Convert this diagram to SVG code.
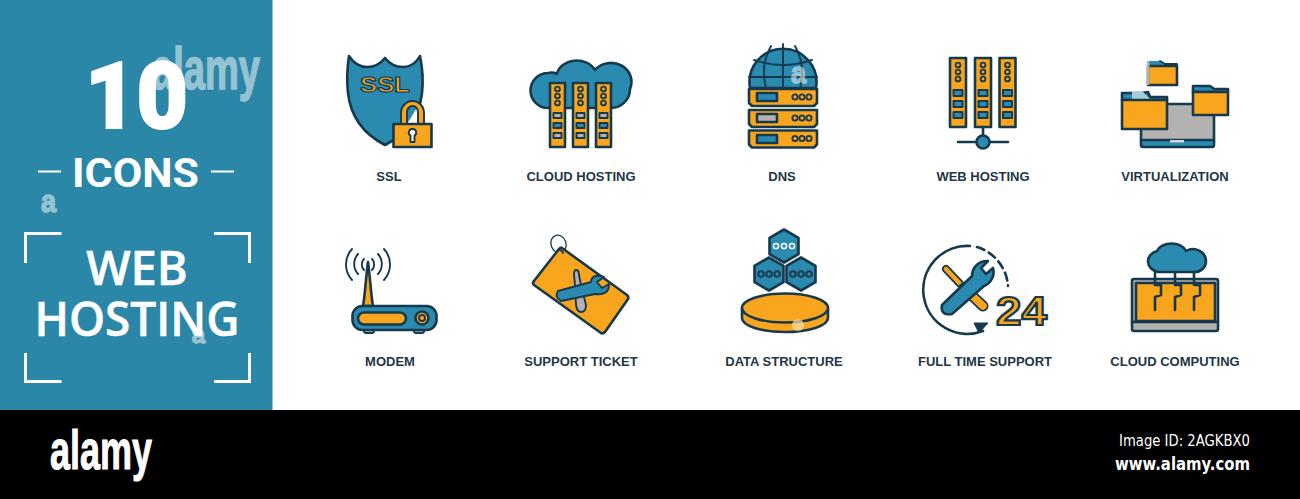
<svg xmlns="http://www.w3.org/2000/svg" width="1300" height="499" viewBox="0 0 1300 499">
<style>
.l{font:bold 13px "Liberation Sans",Arial,sans-serif;fill:#1f3645;text-anchor:middle}
.s{stroke:#17394c;stroke-width:2.600;stroke-linejoin:round;stroke-linecap:round}
.t{stroke:#17394c;stroke-width:1.900;stroke-linejoin:round;stroke-linecap:round}
.n{fill:none}.o{fill:#f9a61e}.b{fill:#2a8ab0}.g{fill:#b4b2b0}
.w{fill:#fff;font-family:"Open Sans",sans-serif;font-weight:600;text-anchor:middle;stroke:#fff;stroke-width:.5}
.m{fill:#fff;stroke:#fff;stroke-width:1.500;opacity:.5;font-family:"Liberation Sans",sans-serif;font-weight:bold}
.k{fill:none;stroke:#fff;stroke-width:3}
.dk{fill:none;stroke:#17394c;stroke-linecap:round}
</style>
<defs>
<g id="dots"><circle cx="7.500" cy="7" r="2.400" class="t n"/><circle cx="7.500" cy="14" r="2.400" class="t n"/><circle cx="7.500" cy="21" r="2.400" class="t n"/></g>
<g id="rack"><rect width="15" height="64" class="s o"/><use href="#dots" y="-1"/><rect x="3.500" y="30" width="8" height="5" class="t g"/><rect x="3.500" y="40" width="8" height="5" class="t b"/><rect x="3.500" y="50" width="8" height="5" class="t g"/></g>
<g id="rackb"><rect width="16" height="69" class="s o"/><use href="#dots" x=".5"/><rect x="3.500" y="32" width="9" height="6" class="t b"/><rect x="3.500" y="43" width="9" height="6" class="t b"/><rect x="3.500" y="54" width="9" height="6" class="t b"/></g>
<g id="unit"><path d="M0 0H68V14L65 17H3L0 14Z" class="s o"/><circle cx="46" cy="8" r="2.600" class="t n"/><circle cx="53" cy="8" r="2.600" class="t n"/><circle cx="60" cy="8" r="2.600" class="t n"/></g>
<path id="hex" d="M0-16.500L14.500-8.200V8.200L0 16.500L-14.500 8.200V-8.200Z" class="s b"/>
</defs>
<rect width="1300" height="499" fill="#fff"/>
<g id="panel">
<rect width="272.500" height="410" fill="#2b87a7"/>
<text class="m" x="152" y="89" font-size="60" textLength="108" lengthAdjust="spacingAndGlyphs">alamy</text>
<text class="m" x="41" y="212" font-size="32" textLength="15" lengthAdjust="spacingAndGlyphs">a</text>
<text class="m" x="192" y="343" font-size="24" textLength="13" lengthAdjust="spacingAndGlyphs">a</text>
<text x="85" y="128" font-family="Roboto,sans-serif" font-weight="900" font-size="92" fill="#fff" stroke="#fff" stroke-width="2" textLength="103" lengthAdjust="spacingAndGlyphs">10</text>
<text x="72" y="187" font-family="Roboto,sans-serif" font-weight="700" font-size="41" fill="#fff" textLength="127" lengthAdjust="spacingAndGlyphs">ICONS</text>
<path d="M38 171.500H61M211 171.500H234" stroke="#fff" stroke-width="2" fill="none"/>
<text class="w" x="137" y="285" font-size="47">WEB</text>
<text class="w" x="137" y="336" font-size="47" textLength="205" lengthAdjust="spacingAndGlyphs">HOSTING</text>
<path class="k" d="M25.500 263V233.500H61.500M214 233.500H249.500V263M25.500 353V381.500H61.500M214 381.500H249.500V353"/>
</g>
<g id="ssl">
<path d="M349 56Q356 67 367 67Q378 67 385 58Q392 67 403 67Q414 67 420 56Q424 75 422 93Q418 128 385 145Q352 128 348 93Q346 75 349 56Z" class="s b"/>
<text x="360" y="92" font-family="Liberation Sans,sans-serif" font-weight="bold" font-size="22" fill="#f9a61e" stroke="#17394c" stroke-width="1.200" textLength="50" lengthAdjust="spacingAndGlyphs">SSL</text>
<path d="M407 124V112A5.500 6 0 0 1 418 112V124Z" class="b"/><path d="M418 106V124H407Z" fill="#fff"/>
<path d="M401 124V113A11.500 12 0 0 1 424 113V124H418V112A5.500 6 0 0 0 407 112V124Z" class="t o"/>
<rect x="393.500" y="124" width="38" height="23" class="s o"/>
<path d="M412.500 129a3.500 3.500 0 0 1 2 6.500V142h-4v-6.500a3.500 3.500 0 0 1 2-6.500Z" fill="#fff" class="t"/>
<text class="l" x="389" y="181">SSL</text>
</g>
<g id="cloud-hosting">
<path d="M548 108A17.500 17.500 0 0 1 548 73Q553 72 557 74A20 16 0 0 1 595 70A20.500 19 0 0 1 630 89A19 19 0 0 1 611 108Z" class="s b"/>
<use href="#rack" x="550" y="83"/><use href="#rack" x="573" y="83"/><use href="#rack" x="596" y="83"/>
<text class="l" x="581" y="181">CLOUD HOSTING</text>
</g>
<g id="dns">
<path d="M750 88A33.500 33.500 0 1 1 816 88Z" class="s b"/>
<path d="M783 44V88M771 46Q760 66 766 88M795 46Q806 66 800 88M754 60Q783 70 812 60M749 77H817" class="t n"/>
<text class="m" x="791" y="83" font-size="30" textLength="15" lengthAdjust="spacingAndGlyphs">a</text>
<use href="#unit" x="749" y="89"/><use href="#unit" x="749" y="110"/><use href="#unit" x="749" y="130.500"/>
<rect x="757" y="93" width="20" height="8" class="s b"/><rect x="757" y="114" width="20" height="8" class="s g"/><rect x="757" y="135" width="20" height="8" class="s b"/>
<text class="l" x="782" y="181">DNS</text>
</g>
<g id="web-hosting">
<use href="#rackb" x="950" y="58"/><use href="#rackb" x="975" y="58"/><use href="#rackb" x="999.500" y="58"/>
<path d="M983 127V142M958 142H1008" class="s n"/><circle cx="983" cy="142" r="6.500" class="s b"/>
<text class="l" x="983" y="181">WEB HOSTING</text>
</g>
<g id="virtualization">
<rect x="1141" y="104" width="73" height="37" rx="1" class="s g"/><path d="M1141 140H1214V145Q1214 147 1212 147H1143Q1141 147 1141 145Z" class="s b"/>
<rect x="1170" y="140" width="14" height="2.500" fill="#d5d5d5"/>
<path d="M1148 66V61H1160L1165 64H1177V66Z" class="b"/><rect x="1148" y="66" width="29" height="19" class="s o"/><path d="M1160 61L1165 64H1177V85" class="t n"/><rect x="1147" y="61" width="2.500" height="24" class="g"/>
<path d="M1122 100V93H1142L1148 92L1150 97H1167V100Z" class="s b"/><path d="M1132 92H1143L1150 99H1132Z" fill="#a4cbd8"/>
<rect x="1122" y="100" width="45" height="29" class="s o"/>
<path d="M1193 92V86H1210L1214 89H1228V92Z" class="s b"/><rect x="1193" y="92" width="35" height="23" class="s o"/>
<text class="l" x="1175" y="181">VIRTUALIZATION</text>
</g>
<g id="modem">
<path d="M368 263C366 275 365 295 363 306H373C371 295 370 275 368 263Z" class="s o"/>
<path d="M368 262V270" class="s n"/>
<path d="M364 259a8 8 0 0 0 0 11M372 259a8 8 0 0 1 0 11M358 254a15 15 0 0 0 0 20M378 254a15 15 0 0 1 0 20M352 249a23 23 0 0 0 0 31M384 249a23 23 0 0 1 0 31" class="t n"/>
<rect x="364" y="328" width="10" height="5" rx="1.500" class="t g"/><rect x="414" y="328" width="10" height="5" rx="1.500" class="t g"/>
<rect x="352.500" y="306" width="84" height="24" rx="10" class="s b"/>
<rect x="358" y="312.500" width="48" height="12" rx="6" class="s o"/>
<circle cx="422" cy="318" r="6.500" class="s o"/><circle cx="422" cy="318" r="3" class="t o"/>
<text class="l" x="390" y="366">MODEM</text>
</g>
<g id="support-ticket">
<ellipse cx="558.500" cy="244" rx="7.500" ry="9" transform="rotate(-20 558.500 244)" class="t n" style="stroke-width:1.300"/>
<path d="M562 248L627 295Q629 297 628 299L605 332Q603 334 601 333L534 285Q532 283 534 281L559 249Q561 247 562 248Z" class="s o"/>
<path d="M558 250a4 4 0 0 1 5 3" class="t n"/>
<path d="M576 270Q579 270 579 275L581 285L586 305Q586 312 581 312Q577 312 576 305L575 285L574 275Q574 270 576 270Z" class="t g"/>
<path d="M558 291L591 282Q592 273 604 277L597 282L602 288L609 284Q609 296 595 294L561 301Q554 297 558 291Z" class="t b"/>
<text class="l" x="581" y="366">SUPPORT TICKET</text>
</g>
<g id="data-structure">
<use href="#hex" x="784" y="246"/><use href="#hex" x="769" y="274"/><use href="#hex" x="801" y="274"/>
<g fill="none" stroke="#fff" stroke-width="1.500"><circle cx="776" cy="246" r="2.600"/><circle cx="784" cy="246" r="2.600"/><circle cx="792" cy="246" r="2.600"/></g>
<g class="t n"><circle cx="761" cy="274" r="2.800"/><circle cx="769" cy="274" r="2.800"/><circle cx="777" cy="274" r="2.800"/><circle cx="793" cy="274" r="2.800"/><circle cx="801" cy="274" r="2.800"/><circle cx="809" cy="274" r="2.800"/></g>
<path d="M742 308V318A43 14 0 0 0 828 318V308Z" class="s o"/>
<ellipse cx="785" cy="308" rx="43" ry="14.500" class="s o"/>
<circle cx="798" cy="325" r="6" fill="#fbe0ae" opacity=".7"/>
<text class="l" x="784" y="366">DATA STRUCTURE</text>
</g>
<g id="full-time-support">
<path d="M970 246A44 44 0 1 0 983 331" class="s n"/><path d="M988 323L974 323L979 333Z" fill="#17394c" stroke="#17394c" stroke-linejoin="round"/>
<path d="M977 247A44 44 0 0 1 1008 286" class="s n" stroke-dasharray="8 5"/>
<path d="M946 269L965 289" class="dk" stroke-width="8"/><path d="M946 269L965 289" fill="none" stroke="#f9a61e" stroke-width="4.500" stroke-linecap="round"/>
<path d="M964 288L983 306" class="dk" stroke-width="11"/><path d="M964 288L983 306" fill="none" stroke="#f9a61e" stroke-width="7.500" stroke-linecap="round"/>
<path d="M942 305L972 276A15 15 0 0 1 988 261L981 268L986 274L993 268A15 15 0 0 1 984 286L952 314Q940 316 942 305Z" class="s b"/>
<text x="996" y="325" font-family="Liberation Sans,sans-serif" font-weight="bold" font-size="41" fill="#f9a61e" stroke="#17394c" stroke-width="2.200" textLength="51" lengthAdjust="spacingAndGlyphs">24</text>
<text class="l" x="985" y="366">FULL TIME SUPPORT</text>
</g>
<g id="cloud-computing">
<path d="M1132 322V281Q1132 279 1134 279H1216Q1218 279 1218 281V322Z" class="s g"/>
<rect x="1136" y="283" width="79" height="38" class="s o"/>
<path d="M1132 322H1218V329Q1218 331 1216 331H1134Q1132 331 1132 329Z" class="s g"/>
<path d="M1155 273V285H1161V295L1155 297V310M1175 273V285H1181V295L1175 297V310M1194 273V285H1200V295L1194 297V310" class="s n"/>
<path d="M1158 272A13.500 11 0 0 1 1157 251A15 10 0 0 1 1186 251A13 12 0 0 1 1206 261A11 11 0 0 1 1195 272Z" class="s b"/>
<text class="l" x="1175" y="366">CLOUD COMPUTING</text>
</g>
<g id="footer">
<rect y="410" width="1300" height="89" fill="#000"/>
<text x="50" y="469" font-family="Liberation Sans,sans-serif" font-weight="bold" font-size="56" fill="#fff" stroke="#fff" stroke-width="1" textLength="102" lengthAdjust="spacingAndGlyphs">alamy</text>
<text x="1250" y="446" font-family="DejaVu Sans Condensed,DejaVu Sans,sans-serif" font-size="15" fill="#fff" text-anchor="end" textLength="131" lengthAdjust="spacingAndGlyphs">Image ID: 2AGKBX0</text>
<text x="1250" y="470" font-family="DejaVu Sans Condensed,DejaVu Sans,sans-serif" font-weight="bold" font-size="17" fill="#fff" text-anchor="end" textLength="135" lengthAdjust="spacingAndGlyphs">www.alamy.com</text>
</g>
</svg>
